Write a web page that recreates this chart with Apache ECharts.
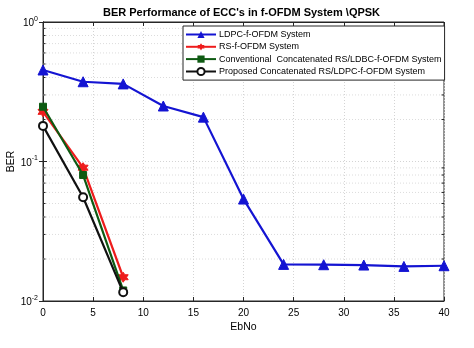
<!DOCTYPE html>
<html>
<head>
<meta charset="utf-8">
<script src="https://cdn.jsdelivr.net/npm/echarts@6/dist/echarts.min.js"></script>
<style>html,body{margin:0;padding:0;background:#fff}#c{width:474px;height:348px}</style>
</head>
<body>
<div id="c"></div>
<script>
var titleText = "BER Performance of ECC's in f-OFDM System \\QPSK";
var seriesNames = ["LDPC-f-OFDM System", "RS-f-OFDM System", "Conventional  Concatenated RS/LDBC-f-OFDM System", "Proposed Concatenated RS/LDPC-f-OFDM System"];
var ebnoLdpc = [0, 4, 8, 12, 16, 20, 24, 28, 32, 36, 40];
var berLdpc = [0.453, 0.373, 0.36, 0.25, 0.208, 0.0538, 0.0183, 0.0182, 0.0181, 0.0177, 0.0179];
var ebnoShort = [0, 4, 8];
var berRs = [0.227, 0.0903, 0.0148];
var berConv = [0.247, 0.080, 0.0119];
var berProp = [0.18, 0.0554, 0.01154];
var xTicks = [0, 5, 10, 15, 20, 25, 30, 35, 40];
var yMajor = [0.01, 0.1, 1];
var yMinor = [0.02, 0.03, 0.04, 0.05, 0.06, 0.07, 0.08, 0.09, 0.2, 0.3, 0.4, 0.5, 0.6, 0.7, 0.8, 0.9];

function pairs(xs, ys) { return xs.map(function (x, i) { return [x, ys[i]]; }); }

var hexagram = 'path://M0,-10L2.885,-5L8.66,-5L5.77,0L8.66,5L2.885,5L0,10L-2.885,5L-8.66,5L-5.77,0L-8.66,-5L-2.885,-5Z';
var FONT = 'Liberation Sans, Arial, sans-serif';

var chart = echarts.init(document.getElementById('c'), null, { renderer: 'canvas' });

var option = {
  animation: false,
  backgroundColor: '#fff',
  textStyle: { fontFamily: FONT },
  title: {
    text: titleText,
    left: 98, top: 2,
    textStyle: { fontSize: 11, fontWeight: 'bold', color: '#000', fontFamily: FONT }
  },
  grid: { left: 43, right: 30, top: 22, bottom: 47, show: true, borderColor: '#262626', borderWidth: 1, backgroundColor: '#fff', containLabel: false, outerBoundsMode: 'none' },
  legend: {
    data: seriesNames,
    orient: 'vertical',
    left: 183, top: 26,
    itemWidth: 30, itemHeight: 9, itemGap: 3.3,
    padding: [4, 3, 4, 2],
    backgroundColor: '#fff',
    borderColor: '#262626', borderWidth: 1, borderRadius: 0,
    textStyle: { fontSize: 9, color: '#000', fontFamily: FONT, padding: [0, 0, 0, -2] }
  },
  xAxis: [{
    type: 'value', min: 0, max: 40, interval: 5,
    name: 'EbNo', nameLocation: 'middle', nameGap: 21, nameMoveOverlap: false,
    nameTextStyle: { fontSize: 10.5, color: '#000' },
    axisLine: { show: true, lineStyle: { color: '#262626', width: 1 } },
    axisTick: { show: true, inside: true, length: 4, lineStyle: { color: '#262626' } },
    axisLabel: { fontSize: 10, color: '#000', margin: 7 },
    splitLine: { show: true, lineStyle: { color: '#d4d4d4', type: [1, 2], width: 1 } }
  }, {
    type: 'value', min: 0, max: 40, interval: 5, position: 'top',
    axisLine: { show: true, lineStyle: { color: '#262626' } },
    axisTick: { show: true, inside: true, length: 4, lineStyle: { color: '#262626' } },
    axisLabel: { show: false }, splitLine: { show: false }
  }],
  yAxis: [{
    type: 'log', logBase: 10, min: 0.01, max: 1,
    name: 'BER', nameLocation: 'middle', nameGap: 26, nameMoveOverlap: false,
    nameTextStyle: { fontSize: 10.5, color: '#000' },
    axisLine: { show: true, lineStyle: { color: '#262626', width: 1 } },
    axisTick: { show: true, inside: true, length: 4, lineStyle: { color: '#262626' } },
    axisLabel: {
      margin: 5, color: '#000',
      formatter: function (v) {
        var e = Math.round(Math.log10(v));
        return '{b|10}{s|' + e + '}';
      },
      rich: {
        b: { fontSize: 10, color: '#000', verticalAlign: 'bottom', lineHeight: 13 },
        s: { fontSize: 7, color: '#000', verticalAlign: 'top', lineHeight: 13 }
      }
    },
    splitLine: { show: true, lineStyle: { color: '#d4d4d4', type: [1, 2], width: 1 } }
  }, {
    type: 'log', logBase: 10, min: 0.01, max: 1, position: 'right',
    axisLine: { show: true, lineStyle: { color: '#262626' } },
    axisTick: { show: true, inside: true, length: 4, lineStyle: { color: '#262626' } },
    axisLabel: { show: false }, splitLine: { show: false }
  }],
  series: [
    {
      type: 'custom', name: 'minorGrid', silent: true, z: 1,
      coordinateSystem: 'cartesian2d', xAxisIndex: 0, yAxisIndex: 0,
      data: yMinor.map(function (v) { return [0, v]; }),
      renderItem: function (params, api) {
        var v = api.value(1);
        var p0 = api.coord([0, v]);
        var p1 = api.coord([40, v]);
        return {
          type: 'group',
          children: [
            { type: 'line', shape: { x1: p0[0], y1: p0[1], x2: p1[0], y2: p1[1] }, style: { stroke: '#dcdcdc', lineWidth: 1, lineDash: [1, 2] } },
            { type: 'line', shape: { x1: p0[0], y1: p0[1], x2: p0[0] + 2.5, y2: p0[1] }, style: { stroke: '#262626', lineWidth: 1 } },
            { type: 'line', shape: { x1: p1[0], y1: p1[1], x2: p1[0] - 2.5, y2: p1[1] }, style: { stroke: '#262626', lineWidth: 1 } }
          ]
        };
      }
    },
    {
      name: seriesNames[0], type: 'line', data: pairs(ebnoLdpc, berLdpc), z: 3,
      color: '#1414d2',
      lineStyle: { color: '#1414d2', width: 2.2, type: 'solid' },
      symbol: 'triangle', symbolSize: 10,
      itemStyle: { color: '#1414d2', borderColor: '#1414d2' }
    },
    {
      name: seriesNames[1], type: 'line', data: pairs(ebnoShort, berRs), z: 4,
      color: '#ee1c1c',
      lineStyle: { color: '#ee1c1c', width: 2.2, type: 'solid' },
      symbol: hexagram, symbolSize: 10,
      itemStyle: { color: '#ee1c1c', borderColor: '#ee1c1c' }
    },
    {
      name: seriesNames[2], type: 'line', data: pairs(ebnoShort, berConv), z: 5,
      color: '#0e5a12',
      lineStyle: { color: '#0e5a12', width: 2.2, type: 'solid' },
      symbol: 'rect', symbolSize: 7,
      itemStyle: { color: '#0e5a12', borderColor: '#0e5a12' }
    },
    {
      name: seriesNames[3], type: 'line', data: pairs(ebnoShort, berProp), z: 6,
      color: '#111111',
      lineStyle: { color: '#111111', width: 2.2, type: 'solid' },
      symbol: 'circle', symbolSize: 8, showSymbol: true,
      itemStyle: { color: '#ffffff', borderColor: '#111111', borderWidth: 2, borderType: 'solid' }
    }
  ]
};
chart.setOption(option);
</script>
</body>
</html>
